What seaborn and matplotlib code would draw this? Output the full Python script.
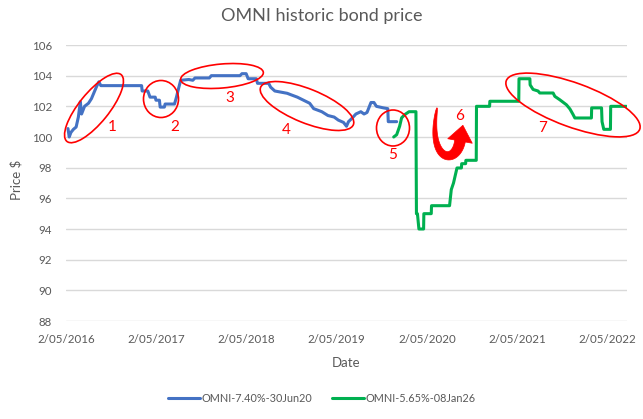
import numpy as np
import pandas as pd
import matplotlib
matplotlib.use("Agg")
import matplotlib.pyplot as plt
import matplotlib.dates as mdates
from matplotlib.patches import Ellipse, Polygon
import seaborn as sns

# --- data ---
blue_name = "OMNI-7.40%-30Jun20"
green_name = "OMNI-5.65%-08Jan26"

blue_dates = [
    "2016-05-10", "2016-05-15", "2016-05-22", "2016-06-01", "2016-06-12",
    "2016-06-21", "2016-06-29", "2016-07-04", "2016-07-16", "2016-08-01",
    "2016-08-13", "2016-08-26", "2016-09-03", "2016-09-12", "2016-09-20",
    "2017-03-04", "2017-03-06", "2017-03-29", "2017-04-07", "2017-04-28",
    "2017-05-01", "2017-05-15", "2017-05-18", "2017-06-04", "2017-06-07",
    "2017-07-15", "2017-07-23", "2017-08-01", "2017-08-09", "2017-09-11",
    "2017-09-27", "2017-10-06", "2017-12-03", "2017-12-11", "2018-04-06",
    "2018-04-14", "2018-05-01", "2018-05-09", "2018-06-11", "2018-06-16",
    "2018-07-31", "2018-08-08", "2018-08-25", "2018-10-14", "2018-10-30",
    "2018-11-24", "2018-12-19", "2019-01-13", "2019-01-29", "2019-03-03",
    "2019-03-28", "2019-04-22", "2019-05-09", "2019-05-30", "2019-06-11",
    "2019-06-19", "2019-07-02", "2019-07-19", "2019-08-08", "2019-08-21",
    "2019-09-02", "2019-09-18", "2019-09-30", "2019-10-10", "2019-11-07",
    "2019-11-25", "2019-11-27", "2019-12-31",
]
blue_prices = [
    100.55, 100.0, 100.3, 100.5, 100.65,
    101.3, 102.3, 101.5, 102.0, 102.2,
    102.5, 103.0, 103.3, 103.6, 103.35,
    103.35, 103.0, 103.0, 102.6, 102.6,
    102.4, 102.4, 101.95, 101.95, 102.15,
    102.15, 102.6, 103.2, 103.7, 103.75,
    103.7, 103.85, 103.85, 104.0, 104.0,
    104.13, 104.13, 103.8, 103.8, 103.5,
    103.5, 103.25, 103.0, 102.85, 102.75,
    102.6, 102.4, 102.2, 101.85, 101.65,
    101.4, 101.3, 101.1, 100.95, 100.7,
    101.0, 101.2, 101.5, 101.65, 101.5,
    101.6, 102.25, 102.25, 102.0, 101.9,
    101.85, 101.0, 101.0,
]

green_dates = [
    "2019-12-19", "2019-12-31", "2020-01-12", "2020-01-20", "2020-02-01",
    "2020-02-19", "2020-03-18", "2020-03-20", "2020-03-24", "2020-03-30",
    "2020-04-18", "2020-04-19", "2020-05-19", "2020-05-20", "2020-08-01",
    "2020-08-08", "2020-08-17", "2020-08-31", "2020-09-18", "2020-09-19",
    "2020-10-05", "2020-10-06", "2020-11-17", "2020-11-18", "2021-01-10",
    "2021-01-11", "2021-05-08", "2021-05-09", "2021-06-22", "2021-06-23",
    "2021-07-05", "2021-07-25", "2021-08-01", "2021-09-24", "2021-10-01",
    "2021-10-21", "2021-11-17", "2021-12-01", "2021-12-14", "2021-12-21",
    "2022-02-26", "2022-02-27", "2022-04-08", "2022-04-10", "2022-04-17",
    "2022-05-14", "2022-05-15", "2022-07-18",
]
green_prices = [
    100.0, 100.15, 100.7, 101.25, 101.45,
    101.65, 101.65, 95.0, 95.0, 94.0,
    94.0, 95.0, 95.0, 95.52, 95.52,
    96.57, 97.0, 97.98, 97.98, 98.26,
    98.26, 98.48, 98.48, 102.0, 102.0,
    102.33, 102.33, 103.8, 103.8, 103.4,
    103.1, 103.0, 102.87, 102.87, 102.65,
    102.43, 102.1, 101.83, 101.46, 101.24,
    101.24, 101.9, 101.9, 101.0, 100.5,
    100.5, 102.0, 102.0,
]

xtick_dates = ["2016-05-02", "2017-05-02", "2018-05-02", "2019-05-02",
               "2020-05-02", "2021-05-02", "2022-05-02"]
yticks = [88, 90, 92, 94, 96, 98, 100, 102, 104, 106]
note_labels = ["1", "2", "3", "4", "5", "6", "7"]

df = pd.concat([
    pd.DataFrame({"date": pd.to_datetime(blue_dates), "price": blue_prices,
                  "series": blue_name}),
    pd.DataFrame({"date": pd.to_datetime(green_dates), "price": green_prices,
                  "series": green_name}),
], ignore_index=True)

sns.set_style("white")
plt.rcParams['font.family'] = ['Lato', 'DejaVu Sans']

grey = "#595959"
red = "#FF0000"

fig = plt.figure(figsize=(6.43, 4.19), dpi=100)
ax = fig.add_axes([66 / 643, 1 - 321 / 419, 561 / 643, 276 / 419])

sns.lineplot(data=df, x="date", y="price", hue="series", estimator=None,
             sort=False, palette={blue_name: "#4472C4", green_name: "#00B050"},
             linewidth=2.2, ax=ax, legend=False)

ax.set_xlim(pd.Timestamp("2016-05-02"), pd.Timestamp("2022-07-20"))
ax.set_ylim(88, 106)
ax.set_yticks(yticks)
ax.set_xticks(pd.to_datetime(xtick_dates))
ax.xaxis.set_major_formatter(
    plt.FuncFormatter(lambda v, p: (lambda d: f"{d.day}/{d.month:02d}/{d.year}")(mdates.num2date(v))))
ax.tick_params(axis="both", length=0, labelsize=8.3, labelcolor=grey)
ax.tick_params(axis="x", pad=9)
ax.tick_params(axis="y", pad=10)
ax.grid(axis="y", color="#D9D9D9", linewidth=1)
ax.grid(axis="x", visible=False)
for s in ax.spines.values():
    s.set_visible(False)

ax.set_xlabel("Date", fontsize=9.5, color=grey)
ax.set_ylabel("Price $", fontsize=9.5, color=grey)
ax.xaxis.set_label_coords(0.5, (321 - 357) / 276)
ax.yaxis.set_label_coords((22 - 66) / 561, (321 - 180) / 276)

fig.suptitle("OMNI historic bond price", x=0.5, y=1 - 16 / 419, va="center",
             fontsize=13, color=grey)

# legend
handles = [plt.Line2D([], [], color="#4472C4", linewidth=2.2),
           plt.Line2D([], [], color="#00B050", linewidth=2.2)]
fig.legend(handles, [blue_name, green_name], loc="center",
           bbox_to_anchor=(0.5, 1 - 398 / 419), ncol=2, frameon=False,
           fontsize=7.8, handlelength=3.0, handletextpad=0.1,
           columnspacing=1.8, labelcolor=grey)


# red hand-drawn annotations (pixel positions -> inches)
def px(x, y):
    return (x / 100, (419 - y) / 100)


ellipses = [((94, 108), 86, 30, 51), ((161, 99), 35, 37, 0),
            ((222, 76), 83, 24, 5), ((307, 106), 100, 34, -22),
            ((393, 128), 33, 36, 0), ((573, 105), 142, 44, -20)]
for (cx, cy), w, h, ang in ellipses:
    e = Ellipse(px(cx, cy), w / 100, h / 100, angle=ang, fill=False,
                edgecolor=red, linewidth=1.2, transform=fig.dpi_scale_trans)
    fig.add_artist(e)

note_pos = [(112, 127), (175, 127), (230, 98), (286, 130), (393, 155),
            (460, 116), (543, 128)]
for lab, (x, y) in zip(note_labels, note_pos):
    fig.text(x / 643, 1 - y / 419, lab, color=red, fontsize=11,
             ha="center", va="center")

# hook arrow (tapered tail + triangular head), built in pixel space
ctrl = np.array([[437, 108], [427, 162], [456, 166], [460, 141]], float)
t = np.linspace(0, 1, 50)[:, None]
curve = ((1 - t) ** 3 * ctrl[0] + 3 * (1 - t) ** 2 * t * ctrl[1]
         + 3 * (1 - t) * t ** 2 * ctrl[2] + t ** 3 * ctrl[3])
tang = np.gradient(curve, axis=0)
tang /= np.linalg.norm(tang, axis=1)[:, None]
norm = np.stack([-tang[:, 1], tang[:, 0]], axis=1)
half = (0.4 + 5.0 * t ** 0.6)
side_a = curve + norm * half
side_b = curve - norm * half
d = tang[-1]
n = np.array([-d[1], d[0]])
tip = ctrl[3] + d * 16
head = [ctrl[3] + n * 12.5, tip, ctrl[3] - n * 12.5]
outline = np.vstack([side_a, head[0:1], head[1:2], head[2:3], side_b[::-1]])
pts = [px(x, y) for x, y in outline]
fig.add_artist(Polygon(pts, closed=True, facecolor=red, edgecolor=red,
                       linewidth=0.5, transform=fig.dpi_scale_trans))

fig.savefig("out.png", dpi=100)
